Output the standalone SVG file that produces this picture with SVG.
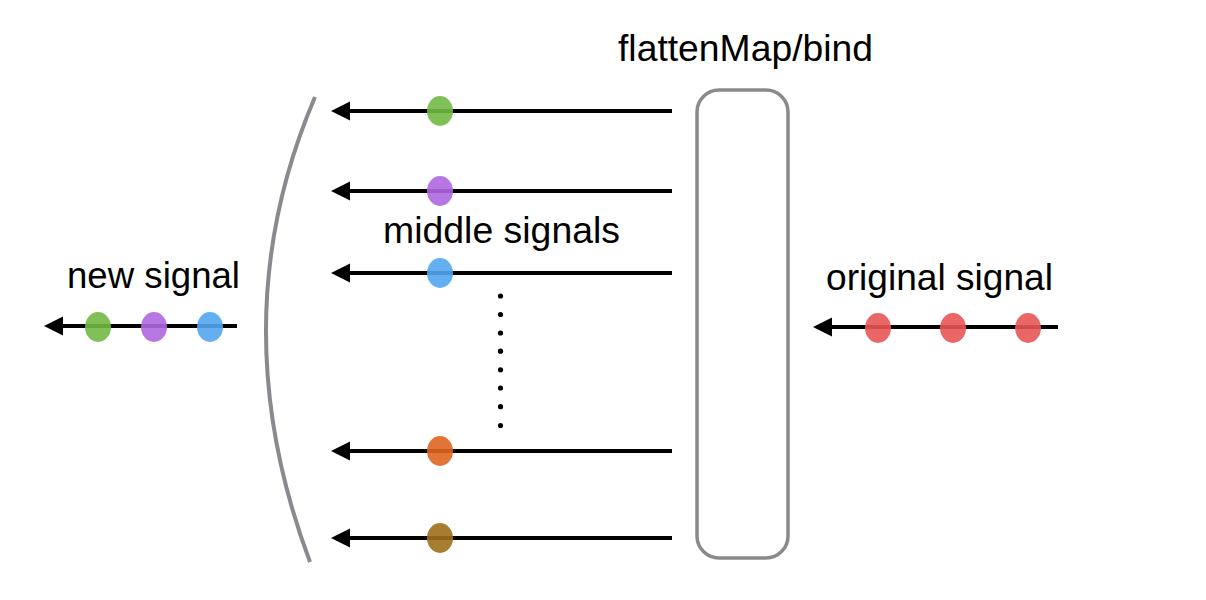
<svg xmlns="http://www.w3.org/2000/svg" width="1206" height="600" viewBox="0 0 1206 600">
<defs>
<style>
.ln{stroke:#000;stroke-width:4;fill:none}
.dot{opacity:0.9}
.t{font-family:"Liberation Sans",Arial,Helvetica,sans-serif;font-size:36.5px;fill:#000}
.g{fill:#72b944}.p{fill:#ae68df}.b{fill:#52a6f1}.r{fill:#e95656}.o{fill:#df6520}.br{fill:#9d6f1c}
</style>
</defs>
<rect width="1206" height="600" fill="#fff"/>
<g id="connectors">
<line class="ln" x1="672" y1="111" x2="350" y2="111"/>
<path d="M331,111 L350,101.5 L350,120.5 Z"/>
<line class="ln" x1="672" y1="191" x2="350" y2="191"/>
<path d="M331,191 L350,181.5 L350,200.5 Z"/>
<line class="ln" x1="672" y1="273" x2="350" y2="273"/>
<path d="M331,273 L350,263.5 L350,282.5 Z"/>
<line class="ln" x1="672" y1="451" x2="350" y2="451"/>
<path d="M331,451 L350,441.5 L350,460.5 Z"/>
<line class="ln" x1="672" y1="538" x2="350" y2="538"/>
<path d="M331,538 L350,528.5 L350,547.5 Z"/>
<line class="ln" x1="237" y1="326" x2="62" y2="326"/>
<path d="M44,326 L63,316.5 L63,335.5 Z"/>
<line class="ln" x1="1058" y1="327" x2="831" y2="327"/>
<path d="M813,327 L832,317.5 L832,336.5 Z"/>
</g>
<g id="bracket">
<path d="M315,97 Q219.5,320.5 310,562" fill="none" stroke="#8a8a8e" stroke-width="4"/>
</g>
<g id="flatten-box">
<rect x="697" y="90" width="91" height="468" rx="22" ry="22" fill="none" stroke="#8a8a8e" stroke-width="3.5"/>
<text class="t" x="618" y="61" textLength="255" lengthAdjust="spacingAndGlyphs">flattenMap/bind</text>
</g>
<g id="middle-signals">
<ellipse class="dot g" cx="440" cy="111" rx="13" ry="15"/>
<ellipse class="dot p" cx="440" cy="191" rx="13" ry="15"/>
<ellipse class="dot b" cx="440" cy="273" rx="13" ry="15"/>
<ellipse class="dot o" cx="440" cy="451" rx="13" ry="15"/>
<ellipse class="dot br" cx="440" cy="538" rx="13" ry="15"/>
<text class="t" x="383" y="243" textLength="237" lengthAdjust="spacingAndGlyphs">middle signals</text>
<g fill="#000">
<circle cx="500.5" cy="296" r="2.6"/>
<circle cx="500.5" cy="314.5" r="2.6"/>
<circle cx="500.5" cy="333" r="2.6"/>
<circle cx="500.5" cy="351.2" r="2.6"/>
<circle cx="500.5" cy="369.8" r="2.6"/>
<circle cx="500.5" cy="388" r="2.6"/>
<circle cx="500.5" cy="406.7" r="2.6"/>
<circle cx="500.5" cy="425.5" r="2.6"/>
</g>
</g>
<g id="new-signal">
<ellipse class="dot g" cx="98" cy="327" rx="13" ry="15"/>
<ellipse class="dot p" cx="154" cy="327" rx="13" ry="15"/>
<ellipse class="dot b" cx="210" cy="327" rx="13" ry="15"/>
<text class="t" x="67" y="288" textLength="173" lengthAdjust="spacingAndGlyphs">new signal</text>
</g>
<g id="original-signal">
<ellipse class="dot r" cx="878" cy="328" rx="13" ry="15"/>
<ellipse class="dot r" cx="953" cy="328" rx="13" ry="15"/>
<ellipse class="dot r" cx="1028" cy="328" rx="13" ry="15"/>
<text class="t" x="826" y="290" textLength="227" lengthAdjust="spacingAndGlyphs">original signal</text>
</g>
</svg>
